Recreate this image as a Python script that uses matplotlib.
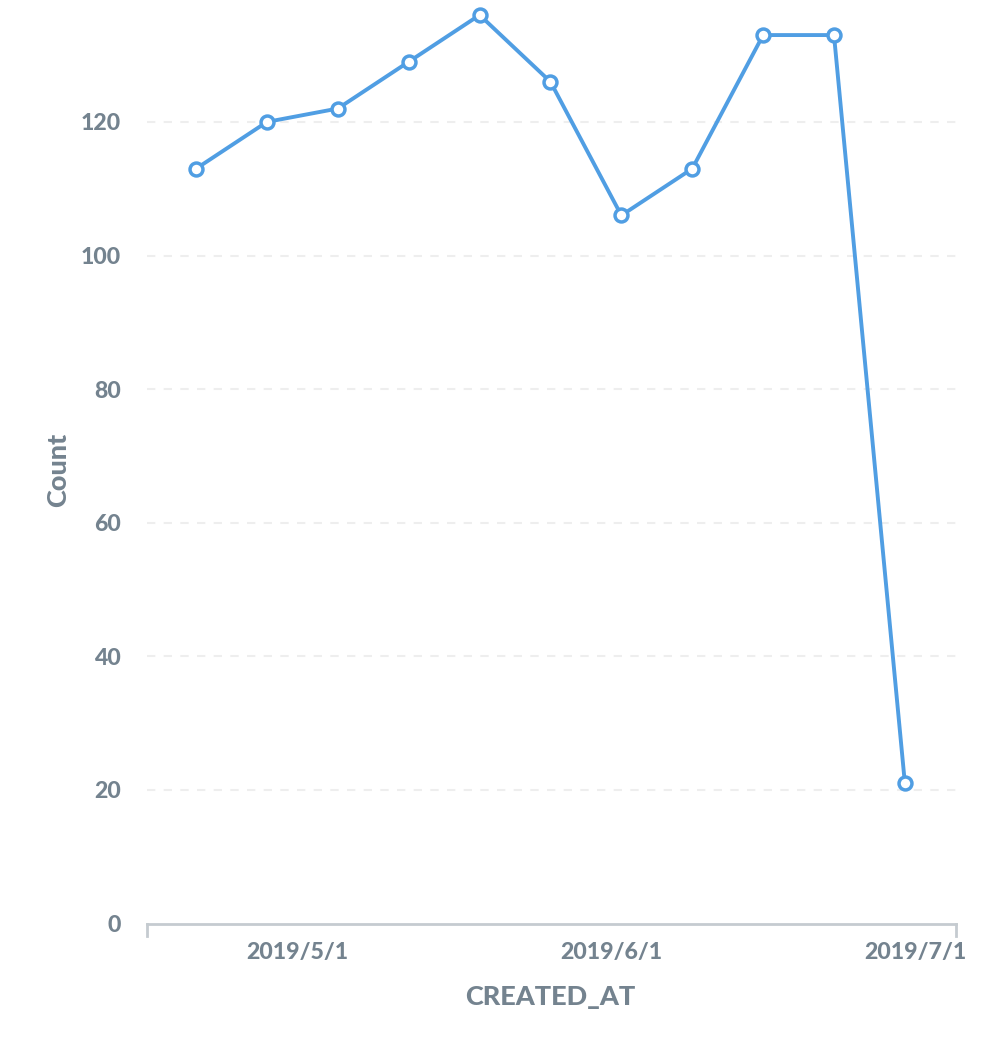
import matplotlib
matplotlib.use("Agg")
import matplotlib.pyplot as plt
import matplotlib.dates as mdates
import datetime as dt

weeks = ["2019-04-21", "2019-04-28", "2019-05-05", "2019-05-12", "2019-05-19",
         "2019-05-26", "2019-06-02", "2019-06-09", "2019-06-16", "2019-06-23",
         "2019-06-30"]
counts = [113, 120, 122, 129, 136, 126, 106, 113, 133, 133, 21]
x_ticks = ["2019-05-01", "2019-06-01", "2019-07-01"]
x_tick_labels = ["2019/5/1", "2019/6/1", "2019/7/1"]
y_ticks = [0, 20, 40, 60, 80, 100, 120]

plt.rcParams['font.family'] = ['Lato', 'DejaVu Sans']
TXT = "#74838f"
BLUE = "#509ee3"
WEIGHT = 900

W, H = 1000, 1040
fig = plt.figure(figsize=(W/100, H/100), dpi=100)
left, right = 147, 956
bottom, top = 923.5, 0
ax = fig.add_axes([left/W, 1-bottom/H, (right-left)/W, (bottom-top)/H])

dates = [dt.datetime.strptime(d, "%Y-%m-%d") for d in weeks]
xd = mdates.date2num(dates)
ax.plot(xd, counts, color=BLUE, lw=2.8, marker='o', ms=9.3, mfc='white',
        mec=BLUE, mew=2.5, zorder=3, clip_on=False)

x0 = mdates.date2num(dt.datetime(2019, 4, 21)) - 4.85
x1 = mdates.date2num(dt.datetime(2019, 6, 30)) + 5.05
ax.set_xlim(x0, x1)
ax.set_ylim(0, 923.5/6.68)

tick_nums = [mdates.date2num(dt.datetime.strptime(d, "%Y-%m-%d")) for d in x_ticks]
ax.set_xticks(tick_nums)
ax.set_xticklabels(x_tick_labels)
ax.set_yticks(y_ticks)
ax.set_yticklabels([str(v) for v in y_ticks])

for s in ['top', 'right', 'left']:
    ax.spines[s].set_visible(False)
ax.spines['bottom'].set_color("#c5cbd0")
ax.spines['bottom'].set_linewidth(2)

ax.tick_params(axis='x', length=0, pad=13, labelsize=16.7, labelcolor=TXT)
ax.tick_params(axis='y', length=0, pad=19, labelsize=16.7, labelcolor=TXT)
for lab in ax.get_xticklabels() + ax.get_yticklabels():
    lab.set_fontweight(WEIGHT)

# end ticks of x axis
for xv in [x0, x1]:
    ax.plot([xv, xv], [0, -12/6.68], color="#c5cbd0", lw=2, clip_on=False)

for yv in y_ticks[1:]:
    ax.axhline(yv, color="#eeeeee", lw=1.5, ls=(0, (4, 4)), zorder=1)

fig.text(550/W, 1-997/H, "CREATED_AT", ha='center', va='center',
         fontsize=19.5, fontweight=WEIGHT, color=TXT)
fig.text(58/W, 1-470/H, "Count", ha='center', va='center', rotation=90,
         fontsize=19.5, fontweight=WEIGHT, color=TXT)

fig.savefig("out.png", dpi=100)
